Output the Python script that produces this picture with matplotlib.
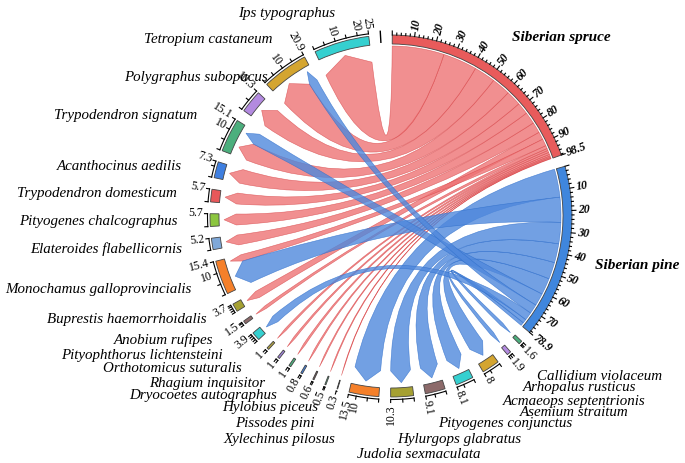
import numpy as np
import matplotlib
matplotlib.use("Agg")
import matplotlib.pyplot as plt
from matplotlib.path import Path
from matplotlib.patches import PathPatch, Wedge

# ---------------- data ----------------
hosts = ["Siberian spruce", "Siberian pine"]
# species sectors in clockwise order (following Siberian pine)
species = ["Callidium violaceum", "Arhopalus rusticus", "Acmaeops septentrionis",
           "Asemium straitum", "Pityogenes conjunctus", "Hylurgops glabratus",
           "Judolia sexmaculata", "", "Xylechinus pilosus", "Pissodes pini",
           "Hylobius piceus", "Dryocoetes autographus", "Rhagium inquisitor",
           "Orthotomicus suturalis", "Pityophthorus lichtensteini", "Anobium rufipes",
           "Buprestis haemorrhoidalis", "Monochamus galloprovincialis",
           "Elateroides flabellicornis", "Pityogenes chalcographus",
           "Trypodendron domesticum", "Acanthocinus aedilis", "Trypodendron signatum",
           "Polygraphus subopacus", "Tetropium castaneum", "Ips typographus", ""]
spruce_vals = [0, 0, 0, 0, 0, 0, 0, 0.3, 0.5, 0.6, 0.8, 1, 1, 1, 0, 1.5, 3.7, 3.4,
               5.2, 5.7, 5.7, 7.3, 9.1, 10.3, 16.4, 25, 0]
pine_vals = [1.6, 1.9, 8, 8.1, 9.1, 10.3, 13.5, 0, 0, 0, 0, 0, 0, 0, 3.9, 0, 0, 12,
             0, 0, 0, 0, 6, 0, 4.5, 0, 0]
host_tick_labels = ["98.5", "78.9"]

# ---------------- style / layout ----------------
host_colors = ["#E85B5B", "#3F86DD"]
chord_colors = ["#EE7375", "#4F88DC"]
chord_edges = ["#D94A4C", "#2F6FCC"]
species_colors = ["#4CAF7D", "#B38AE0", "#D4A530", "#35D0D0", "#8C6A6A", "#A5A032",
                  "#F5802A", "#222222", "#4CAF7D", "#6B4E4E", "#3F7FE0", "#4CAF7D",
                  "#9F83D8", "#B0A040", "#35D0D0", "#8C6A6A", "#A5A032", "#F5802A",
                  "#7FA8D8", "#8CC63F", "#E8585A", "#3F7FE0", "#4CAF7D", "#B38AE0",
                  "#D4A530", "#35D0D0", "#000000"]
# label anchor positions in pixels (x, y, ha)
label_pos = [(537, 376, "left"), (523, 388, "left"), (503, 402, "left"),
             (520, 413, "left"), (438, 424, "left"), (397, 439, "left"),
             (357, 455, "left"), None, (335, 440, "right"), (315, 424, "right"),
             (318, 408, "right"), (277, 395, "right"), (265, 383, "right"),
             (242, 368, "right"), (223, 355, "right"), (213, 340, "right"),
             (207, 319, "right"), (192, 289, "right"), (182, 249, "right"),
             (178, 222, "right"), (177, 194, "right"), (182, 166, "right"),
             (197, 116, "right"), (268, 78, "right"), (272, 40, "right"),
             (335, 13, "right"), None]
host_label_pos = [(512, 38), (595, 265)]

W, H = 685, 463
CX, CY = 391, 216
R_OUT, R_IN = 181, 172
R_HOST = 170
R_SP_EDGE, R_SP_TIP = 155, 167
START = 89.6
GAP = 3.73
SERIF = "Liberation Serif"

fig = plt.figure(figsize=(W / 100, H / 100), dpi=100)
ax = fig.add_axes([0, 0, 1, 1])
ax.set_xlim(-CX, W - CX)
ax.set_ylim(-(H - CY), CY)
ax.axis("off")


def px(x, y):
    return x - CX, CY - y


def pt(theta, r):
    t = np.deg2rad(theta)
    return (r * np.cos(t), r * np.sin(t))


sector_vals = [sum(spruce_vals), sum(pine_vals)] + [a + b for a, b in zip(spruce_vals, pine_vals)]
sector_colors = host_colors + species_colors
n = len(sector_vals)
scale = (360 - n * GAP) / sum(sector_vals)
starts = []
a = START
for v in sector_vals:
    starts.append(a)
    a -= v * scale + GAP


def ang(i, u):
    return starts[i] - u * scale


# ---------------- links ----------------
links = []
for j in range(len(species)):
    for h, vals in enumerate([spruce_vals, pine_vals]):
        if vals[j] > 0:
            links.append([j, h, vals[j], 0.0, 0.0])
# offsets within species sectors (larger first, clockwise)
for j in range(len(species)):
    ls = sorted([l for l in links if l[0] == j], key=lambda l: -l[2])
    off = 0.0
    for l in ls:
        l[3] = off
        off += l[2]
# offsets within host sectors
for h in range(2):
    ls = sorted([l for l in links if l[1] == h], key=lambda l: (-l[2], -l[0]))
    off = 0.0
    for l in ls:
        l[4] = off
        off += l[2]


def chord_path(a0, a1, b0, b1):
    verts, codes = [], []
    p = pt(a1, R_SP_EDGE)
    verts.append(p); codes.append(Path.MOVETO)
    verts += [(0, 0), pt(b0, R_HOST)]; codes += [Path.CURVE3] * 2
    arc = np.linspace(b0, b1, max(3, int(abs(b1 - b0) * 2) + 2))
    for t in arc[1:]:
        verts.append(pt(t, R_HOST)); codes.append(Path.LINETO)
    verts += [(0, 0), pt(a0, R_SP_EDGE)]; codes += [Path.CURVE3] * 2
    verts.append(pt((a0 + a1) / 2, R_SP_TIP)); codes.append(Path.LINETO)
    verts.append(p); codes.append(Path.CLOSEPOLY)
    return Path(verts, codes)


for h in range(2):
    for (j, hh, v, so, ho) in links:
        if hh != h:
            continue
        si = j + 2
        a0 = ang(si, so)
        a1 = ang(si, so + v)
        b0 = ang(h, ho)
        b1 = ang(h, ho + v)
        ax.add_patch(PathPatch(chord_path(a0, a1, b0, b1), facecolor=chord_colors[h],
                               edgecolor=chord_edges[h], lw=0.4, alpha=0.8, zorder=2 + h))


# ---------------- sectors ----------------
def radial_text(theta, r, s, **kw):
    x, y = pt(theta, r)
    rot = theta % 360
    if rot > 180:
        rot -= 360
    if -90 <= rot <= 90:
        ha = "left"
    else:
        rot = rot - 180 if rot > 0 else rot + 180
        ha = "right"
    ax.text(x, y, s, rotation=rot, ha=ha, va="center", rotation_mode="anchor", **kw)


def fmt(v):
    return ("%g" % round(v, 1))


for i, v in enumerate(sector_vals):
    s0 = starts[i]
    s1 = ang(i, v)
    if v > 0:
        ax.add_patch(Wedge((0, 0), R_OUT, s1, s0, width=R_OUT - R_IN,
                           facecolor=sector_colors[i], edgecolor="#444444", lw=0.6, zorder=4))
    if i < 2:
        # host axis: majors every 10, minors every 2
        for u in np.arange(0, v + 1e-9, 2):
            major = abs(u / 10 - round(u / 10)) < 1e-9
            r2 = R_OUT + (4 if major else 2)
            x1, y1 = pt(ang(i, u), R_OUT)
            x2, y2 = pt(ang(i, u), r2)
            ax.plot([x1, x2], [y1, y2], color="black", lw=0.8, zorder=5)
            if major and u > 0 and v - u > 3:
                radial_text(ang(i, u), R_OUT + 6, "%d" % u, fontsize=8.5,
                            family=SERIF, style="italic", weight="bold")
        x1, y1 = pt(s1, R_OUT)
        x2, y2 = pt(s1, R_OUT + 4)
        ax.plot([x1, x2], [y1, y2], color="black", lw=0.8, zorder=5)
        radial_text(s1, R_OUT + 6, host_tick_labels[i], fontsize=8.5,
                    family=SERIF, style="italic", weight="bold")
    else:
        rb = R_OUT + 2.5
        if v <= 0:
            x1, y1 = pt(s0, R_IN + 2)
            x2, y2 = pt(s0, R_OUT + 4)
            ax.plot([x1, x2], [y1, y2], color="black", lw=1.0, zorder=5)
            continue
        th = np.linspace(s0, s1, 30)
        ax.plot([pt(t, rb)[0] for t in th], [pt(t, rb)[1] for t in th],
                color="black", lw=0.8, zorder=5)
        step = 5 if v >= 5 else 1
        ticks = [u for u in np.arange(0, v, step) if v - u > 0.3 * step] + [v]
        for u in ticks:
            x1, y1 = pt(ang(i, u), rb)
            x2, y2 = pt(ang(i, u), rb + 3)
            ax.plot([x1, x2], [y1, y2], color="black", lw=0.8, zorder=5)
            if (u > 0 and abs(u / 10 - round(u / 10)) < 1e-9 and v - u > 2):
                radial_text(ang(i, u), rb + 4.5, "%d" % u, fontsize=8.5, family=SERIF)
        radial_text(s1, rb + 4.5, fmt(v), fontsize=8.5, family=SERIF)

# ---------------- labels ----------------
for j, name in enumerate(species):
    lp = label_pos[j]
    if lp is None or not name:
        continue
    x, y = px(lp[0], lp[1])
    ax.text(x, y, name, ha=lp[2], va="center", fontsize=10.8, family=SERIF,
            style="italic")
for h, name in enumerate(hosts):
    x, y = px(*host_label_pos[h])
    ax.text(x, y, name, ha="left", va="center", fontsize=11, family=SERIF,
            style="italic", weight="bold")

fig.savefig("out.png", dpi=100)
